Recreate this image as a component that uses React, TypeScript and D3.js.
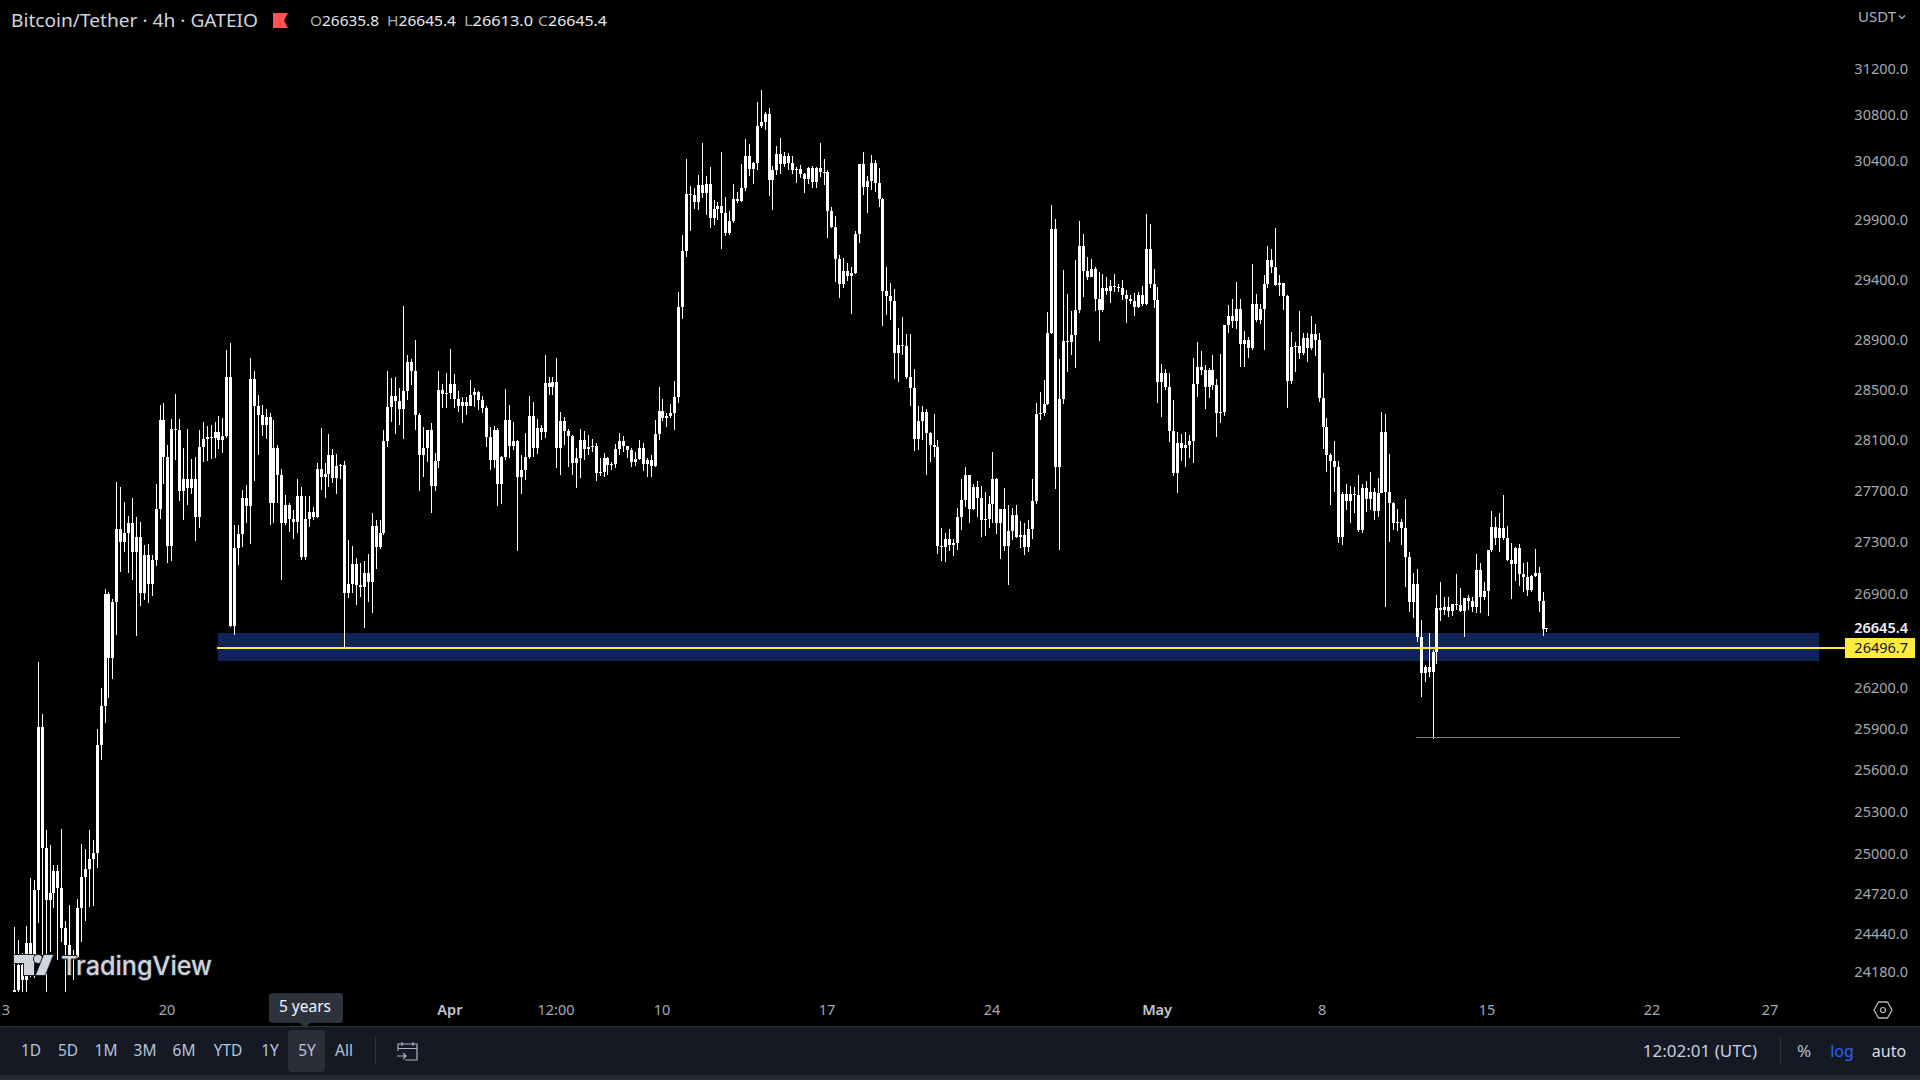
import React from "react";
import * as d3 from "d3";

const closes = [24056,24228,24125,24380,24283,24748,25914,25044,24677,24727,24882,24762,24484,24366,24276,24283,24622,24839,24896,24966,25009,25783,26066,26904,26424,26843,27403,27303,27373,27449,27227,27342,26912,27204,26981,27165,27557,28259,27966,27273,28188,28180,27697,27792,27721,27792,27495,28045,28109,28124,28116,28164,28101,28132,28604,26663,27257,27365,27642,27580,28588,28370,28298,28219,28283,27603,28037,27824,27449,27588,27480,27457,27658,27188,27480,27534,27495,27871,27808,27832,27982,27800,27895,27903,26912,26981,27135,26973,26958,27065,26996,27426,27265,27373,28093,28362,28450,28409,28346,28490,28726,28653,28298,27982,28037,28180,27737,27934,28498,28466,28474,28547,28425,28370,28401,28370,28458,28482,28417,28354,28124,27942,28180,27753,27966,28259,28053,28093,27808,27863,27966,28290,28037,28196,28164,28555,28523,28564,28037,28251,28172,28132,27919,27958,28101,28029,28045,28053,27840,27847,27958,27903,27911,28029,28093,28053,28022,27927,27950,28037,27911,27942,27895,28148,28330,28275,28290,28314,28442,29174,29641,30120,30111,30050,30197,30128,30206,29917,29992,30017,29958,29791,29891,30076,30059,30171,30446,30335,30386,30704,30739,30808,30240,30326,30464,30378,30446,30386,30326,30335,30292,30249,30344,30223,30344,30309,30309,29975,29841,29574,29365,29473,29432,29457,29783,30378,30180,30232,30386,30214,30076,29306,29264,29223,28800,28865,28857,28604,28515,28109,28251,28322,28156,28061,28045,27273,27265,27326,27280,27296,27495,27626,27824,27557,27729,27642,27472,27480,27595,27792,27449,27557,27273,27388,27511,27342,27357,27265,27403,27618,28306,28314,28385,28962,29825,27887,28425,28897,28889,28946,29150,29682,29473,29423,29490,29239,29150,29331,29306,29348,29340,29331,29273,29239,29223,29174,29273,29198,29657,29365,29231,28564,28637,28523,28172,27840,28077,28037,28061,28093,28547,28686,28661,28523,28661,28539,28314,28322,29027,29101,29060,29158,28873,28905,28840,29198,29068,29158,29365,29565,29507,29357,29373,29264,28572,28848,28857,28800,28922,28840,28954,28905,28433,28203,27982,27934,27887,27342,27673,27618,27673,27666,27396,27721,27634,27689,27542,27681,28164,27689,27603,27449,27457,27411,27188,26843,26981,26581,26312,26357,26319,26469,26798,26783,26806,26776,26828,26821,26776,26873,26851,26806,27088,26881,26927,27242,27419,27334,27411,27334,27165,27135,27257,27058,27035,26935,27042,27065,26851,26636,26645.4];

const highs = [24491,24401,24311,24498,24832,24818,26394,26008,25171,25065,24924,24924,25178,24532,24643,24332,24684,25072,25037,25171,25101,25899,26200,26942,26920,26866,27768,27729,27611,27503,27642,27495,27457,27280,27288,27204,27753,28377,28393,28061,28267,28466,28267,28037,28188,27950,27966,28180,28243,28211,28219,28243,28290,28275,28824,28881,27434,27434,27705,27745,28759,28653,28458,28377,28346,28314,28259,28061,27871,27666,27603,27549,27792,27729,27658,27658,27572,27919,28196,27919,28148,28029,27990,27911,27934,27319,27273,27181,27142,27158,27211,27526,27472,27472,28180,28653,28596,28604,28515,29182,28783,28751,28905,28314,28203,28180,28235,27998,28653,28547,28637,28832,28629,28490,28442,28442,28580,28515,28490,28450,28370,28203,28211,28196,27974,28507,28377,28243,28101,27982,28156,28450,28401,28267,28219,28783,28604,28604,28759,28322,28283,28188,28140,28037,28188,28172,28140,28109,28077,27958,27998,27966,27927,28069,28156,28132,28037,28037,28006,28101,28077,27958,27982,28259,28523,28425,28314,28385,28572,29298,29774,30421,30188,30171,30283,30558,30275,30352,30067,30050,30481,30094,29975,30206,30137,30378,30593,30550,30395,30911,31015,30825,30859,30360,30532,30601,30481,30472,30446,30352,30369,30300,30352,30360,30352,30558,30421,30326,30008,29933,29607,29582,29540,29507,29808,30378,30481,30275,30455,30412,30344,30085,29507,29373,29323,29003,29092,28954,28954,28670,28370,28370,28346,28164,28306,28101,27411,27373,27403,27326,27565,27792,27887,27824,27753,27776,27737,27689,27658,28006,27800,27557,27721,27588,27565,27588,27465,27449,27472,27792,28393,28482,28580,29133,30025,29908,28751,29482,29281,29141,29565,29891,29783,29590,29574,29507,29465,29448,29423,29398,29448,29365,29398,29315,29273,29290,29298,29348,29950,29866,29490,29340,28710,28670,28637,28417,28164,28148,28164,28140,28759,28889,28816,28702,28678,28783,28588,28791,29027,29190,29239,29382,29239,28979,28930,29532,29281,29198,29440,29682,29657,29833,29440,29373,29273,28970,28889,29141,28962,28962,29101,29036,28962,28637,28275,27998,28093,27934,27689,27753,27737,27729,27824,27753,27776,27847,27721,27800,28322,28306,27990,27611,27557,27480,27634,27227,27065,27096,26708,26370,26611,26480,26896,26996,26881,26881,26828,27058,26950,26873,26896,26881,27211,27142,26996,27242,27542,27495,27526,27666,27426,27296,27265,27288,27142,27150,27050,27250,27112,26920,26645.4];

const lows = [23987,23987,23987,23987,24146,24139,24518,24297,23987,24318,24622,24263,24387,23987,24194,24125,24276,24387,24532,24629,24636,24903,25674,25943,26125,26267,26596,27073,27227,27065,27012,26589,26813,26858,26836,26889,27119,27480,27753,27142,27158,27942,27618,27472,27588,27673,27311,27411,27927,27934,27950,27958,28029,27998,28116,26656,26596,27127,27265,27449,27288,27776,27982,28132,28109,27434,27449,27603,27012,27434,27380,27326,27373,27165,27165,27419,27472,27488,27705,27642,27729,27761,27673,27792,26506,26873,26912,26821,26881,26648,26843,26761,27096,27250,27357,28045,28243,28148,28219,28109,28417,28539,28180,27697,27808,27927,27526,27697,27879,28354,28354,28425,28354,28322,28235,28298,28370,28362,28338,28314,28045,27863,27879,27580,27595,27942,27958,28022,27234,27673,27784,27950,27966,27990,28101,28116,28458,28458,27879,27824,28061,27887,27824,27721,27800,27942,27982,28006,27776,27816,27808,27824,27863,27879,27982,28006,27958,27887,27895,27942,27855,27808,27808,27887,28101,28251,28203,28275,28180,28393,29076,29590,29808,29992,29983,30085,29942,29833,29858,29900,29657,29766,29774,29875,30042,30050,30146,30275,30206,30326,30687,30670,30102,29983,30283,30292,30352,30326,30292,30214,30258,30128,30206,30171,30171,30266,30197,29749,29833,29382,29248,29331,29390,29117,29448,29708,30111,29958,30154,30137,30008,29019,29109,29068,28588,28564,28783,28588,28370,28014,28022,28101,27824,27927,27966,27211,27158,27150,27234,27196,27242,27396,27572,27449,27549,27495,27342,27350,27411,27449,27365,27173,27234,26973,27319,27334,27257,27204,27227,27326,27595,28259,28290,28377,28954,27713,27242,28385,28645,28783,28678,29125,29256,29398,29423,29141,28897,29133,29273,29207,29298,29298,29231,29044,29198,29101,29166,29182,29190,29331,29166,28393,28283,28498,28085,27816,27681,27934,27887,27958,27919,28442,28621,28346,28433,28498,28124,28235,28290,28962,29003,28995,28686,28686,28759,28824,29052,29036,28824,29331,29457,29348,29264,29150,28354,28547,28645,28751,28783,28726,28824,28775,28401,28029,27847,27588,27689,27296,27280,27549,27449,27526,27380,27373,27534,27549,27472,27495,27681,26806,27303,27396,27388,27280,26958,26768,26723,26544,26132,26245,26282,25826,26379,26701,26746,26731,26738,26783,26768,26581,26783,26768,26761,26761,26858,26738,27227,27280,27227,27319,27158,26866,27004,26966,26920,26889,26920,27035,26768,26589,26613];

const priceTicks = [31200,30800,30400,29900,29400,28900,28500,28100,27700,27300,26900,26200,25900,25600,25300,25000,24720,24440,24180];
const timeTicks: [string, string, boolean][] = [
  ["3","2023-03-13T04:00Z",false],["20","2023-03-20T00:00Z",false],["Apr","2023-04-01T00:00Z",true],
  ["12:00","2023-04-05T12:00Z",false],["10","2023-04-10T00:00Z",false],["17","2023-04-17T00:00Z",false],
  ["24","2023-04-24T00:00Z",false],["May","2023-05-01T00:00Z",true],["8","2023-05-08T00:00Z",false],
  ["15","2023-05-15T00:00Z",false],["22","2023-05-22T00:00Z",false],["27","2023-05-27T00:00Z",false],
];
const ranges: [string, number][] = [["1D",31],["5D",68],["1M",106],["3M",145],["6M",184],["YTD",228],["1Y",270],["5Y",307],["All",344]];
const ohlc: [string, string, number][] = [["O","26635.8",310],["H","26645.4",387],["L","26613.0",464],["C","26645.4",538]];

const lastBar = Date.UTC(2023, 4, 17, 12);
const FOUR_H = 4 * 3600 * 1000;
const zoneTop = 26611, zoneBottom = 26394, levelPrice = 26496.7, currentPrice = 26645.4, sweepLow = 25841;
const font = "'Noto Sans', sans-serif";

const x = d3.scaleUtc().domain([new Date("2023-03-20T00:00Z"), new Date("2023-05-27T00:00Z")]).range([167, 1770]);
const y = d3.scaleLog().domain([31200, 24180]).range([69, 972]);
const px = (v: number) => Math.round(v);

export default function App() {
  const n = closes.length;
  const candleData = closes.map((c, i) => ({
    t: new Date(lastBar - (n - 1 - i) * FOUR_H),
    o: i === 0 ? 23990 : closes[i - 1],
    h: highs[i], l: lows[i], c,
  }));
  const levelY = px(y(levelPrice));
  const T = "#a6a9b2";
  return (
    <svg width={1920} height={1080} style={{ position: "absolute", left: 0, top: 0, background: "#000", display: "block" }} fontFamily={font}>
      <defs>
        <clipPath id="plot"><rect x={0} y={0} width={1840} height={992} /></clipPath>
      </defs>
      <rect width={1920} height={1080} fill="#000" />
      <rect x={218} width={1601} y={px(y(zoneTop))} height={px(y(zoneBottom)) - px(y(zoneTop)) - 1} fill="#10245a" />
      <g clipPath="url(#plot)" shapeRendering="crispEdges">
        {candleData.map((d, i) => {
          const cx = px(x(d.t) + 0.4);
          const top = px(y(Math.max(d.o, d.c)));
          const bot = px(y(Math.min(d.o, d.c)));
          const hy = px(y(d.h)), ly = px(y(d.l));
          return (
            <g key={i} fill="#fff">
              <rect x={cx} y={hy} width={1} height={Math.max(1, ly - hy)} />
              <rect x={cx - 1} y={top} width={3} height={Math.max(1, bot - top)} />
            </g>
          );
        })}
      </g>
      <rect x={217} y={levelY - 1} width={1629} height={2} fill="#ffeb3b" shapeRendering="crispEdges" />
      <rect x={1416} y={px(y(sweepLow))} width={264} height={1} fill="#787b86" shapeRendering="crispEdges" />

      {/* watermark */}
      <g fill="#d1d4dc" stroke="#1c202b" strokeWidth={2} style={{ paintOrder: "stroke" }}>
        <path d="M14 955H34V975H24V963H14Z" />
        <circle cx={38} cy={959} r={4} />
        <path d="M44 955H53L45 975H36Z" />
        <text x={61} y={975} fontSize={26} fontWeight={500} fontFamily="Inter, sans-serif" textLength={151} lengthAdjust="spacingAndGlyphs">TradingView</text>
      </g>

      {/* header */}
      <text x={11} y={27} fontSize={18} fill="#d1d4dc" textLength={247} lengthAdjust="spacingAndGlyphs">Bitcoin/Tether · 4h · GATEIO</text>
      <path d="M273 13H288L284 20.5L288 28H273Z" fill="#ff5252" />
      {ohlc.map(([k, v, xx]) => (
        <text key={k} x={xx} y={26} fontSize={15} fill="#e6e8ee" textLength={69} lengthAdjust="spacingAndGlyphs">
          <tspan fill="#a6a9b2">{k}</tspan>{v}
        </text>
      ))}
      <text x={1858} y={22} fontSize={14} fill="#a9b4c4" textLength={38} lengthAdjust="spacingAndGlyphs">USDT</text>
      <path d="M1899 15.5L1902 18.5L1905 15.5" fill="none" stroke="#a9b4c4" strokeWidth={1.2} />

      {/* price axis */}
      {priceTicks.map((p) => (
        <text key={p} x={1908} y={y(p)} dy="0.35em" textAnchor="end" fontSize={14.5} fill={T}>{p.toFixed(1)}</text>
      ))}
      <text x={1908} y={y(currentPrice)} dy="0.35em" textAnchor="end" fontSize={14.5} fontWeight={600} fill="#f0f3fa">{currentPrice.toFixed(1)}</text>
      <rect x={1845} y={levelY - 10} width={70} height={20} fill="#ffeb3b" />
      <text x={1908} y={levelY} dy="0.35em" textAnchor="end" fontSize={14.5} fill="#131722">{levelPrice.toFixed(1)}</text>

      {/* time axis */}
      {timeTicks.map(([label, iso, strong]) => (
        <text key={iso} x={x(new Date(iso))} y={1010} dy="0.35em" textAnchor="middle" fontSize={14.5}
          fontWeight={strong ? 600 : 400} fill={strong ? "#c3c6ce" : T}>{label}</text>
      ))}
      <path d="M1874 1010L1878.5 1002H1887.5L1892 1010L1887.5 1018H1878.5Z" fill="none" stroke="#b2b5be" strokeWidth={1.3} />
      <circle cx={1883} cy={1010} r={2.5} fill="none" stroke="#b2b5be" strokeWidth={1.2} />

      {/* bottom toolbar */}
      <rect x={0} y={1026} width={1920} height={49} fill="#151924" />
      <rect x={0} y={1075} width={1920} height={5} fill="#262a35" />
      <rect x={0} y={1026} width={1920} height={1} fill="#2f333e" />
      <rect x={288} y={1030} width={37} height={42} rx={4} fill="#2a2e39" />
      {ranges.map(([r, cx]) => (
        <text key={r} x={cx} y={1051} dy="0.35em" textAnchor="middle" fontSize={15.5} fill="#b4c4da">{r}</text>
      ))}
      <rect x={375} y={1037} width={1} height={28} fill="#2f333e" />
      <g fill="none" stroke="#a9b4c4" strokeWidth={1.2}>
        <path d="M398 1051V1044H417V1060H405M398 1048.5H417M402 1042V1046M413 1042V1046" />
        <path d="M397 1056H406M403 1053L406 1056L403 1059" />
      </g>
      <path d="M269 996a3 3 0 0 1 3-3h68a3 3 0 0 1 3 3v24a3 3 0 0 1-3 3h-30l-5 5-5-5h-28a3 3 0 0 1-3-3Z" fill="#2e323d" />
      <text x={305} y={1007} dy="0.35em" textAnchor="middle" fontSize={15.5} fill="#f0f3fa">5 years</text>
      <text x={1700} y={1051} dy="0.35em" textAnchor="middle" fontSize={17} fill="#c6d0e0">12:02:01 (UTC)</text>
      <rect x={1780} y={1037} width={1} height={28} fill="#2f333e" />
      <text x={1804} y={1051} dy="0.35em" textAnchor="middle" fontSize={17} fill="#b4bccb">%</text>
      <text x={1842} y={1051} dy="0.35em" textAnchor="middle" fontSize={16} fill="#2962ff">log</text>
      <text x={1889} y={1051} dy="0.35em" textAnchor="middle" fontSize={16} fill="#d8dce6">auto</text>
    </svg>
  );
}
